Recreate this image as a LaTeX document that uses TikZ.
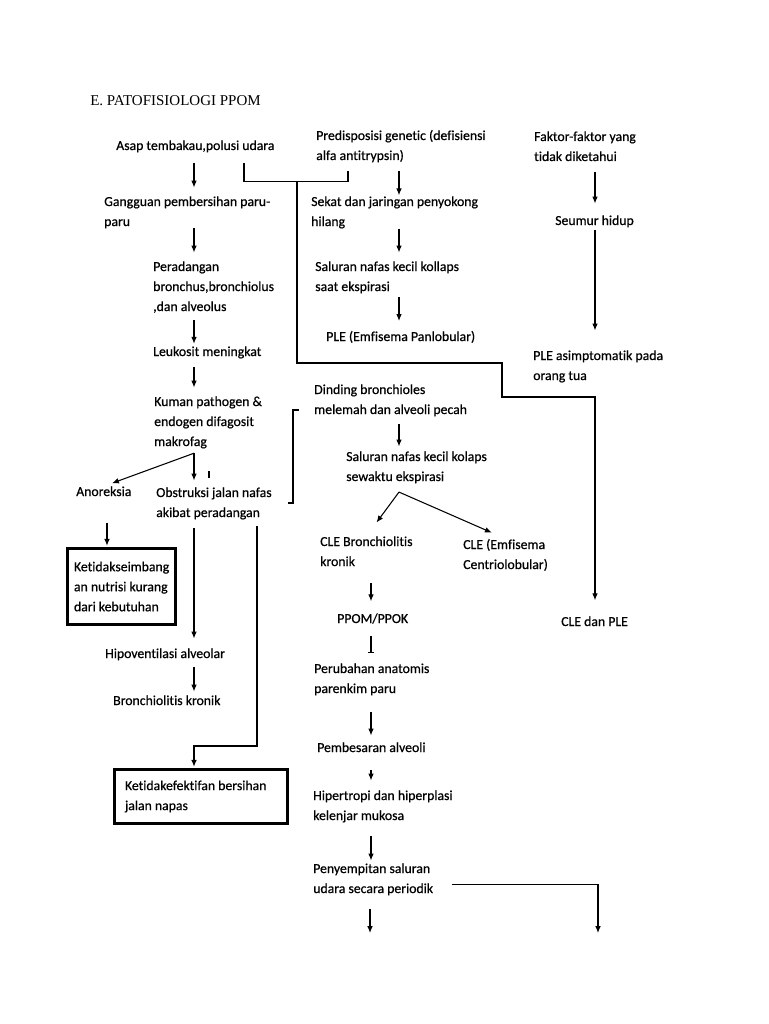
\documentclass[tikz,border=0pt]{standalone}
\usepackage{fontspec}
\setmainfont{Carlito}[Ligatures=NoCommon, FakeBold=0.6]
\newfontfamily\titlefont{Liberation Serif}
\usetikzlibrary{arrows.meta,calc}
\hyphenpenalty=10000
\exhyphenpenalty=10000
\tikzset{
  ln/.style={line width=0.85pt, draw=black},
  arr/.style={ln, -{Latex[length=5.5pt,width=4.5pt]}},
  barr/.style={ln, -{Bar[width=5pt]}},
  txt/.style={font=\fontsize{11}{16}\selectfont, align=left, inner sep=0pt, anchor=base west},
  ttl/.style={font=\titlefont\fontsize{12}{14}\selectfont, inner sep=0pt, anchor=base west},
  box/.style={font=\fontsize{11}{16}\selectfont, align=flush left, draw, line width=2.4pt, anchor=north west, inner ysep=0pt}
}
\begin{document}
\begin{tikzpicture}[x=0.8pt, y=-0.8pt]
  \fill[white] (0,0) rectangle (768,1024);
  \useasboundingbox (0,0) rectangle (768,1024);

  % lanes of the arrows
  \coordinate (xa) at (194,0);
  \coordinate (xb) at (257,0);
  \coordinate (xn) at (107,0);
  \coordinate (xc) at (399,0);
  \coordinate (xd) at (371,0);
  \coordinate (xj) at (244,0);
  \coordinate (xk) at (348,0);
  \coordinate (xm) at (297,0);
  \coordinate (xr) at (595,0);

  \node[ttl] (title) at (90,106) {E. PATOFISIOLOGI PPOM};

  % left column (y = baseline of the last line)
  \node[txt] (asap) at (116,150) {Asap tembakau,polusi udara};
  \node[txt] (gangguan) at (104,226) {Gangguan pembersihan paru-\\paru};
  \node[txt] (radang) at (153,311) {Peradangan\\bronchus,bronchiolus\\,dan alveolus};
  \node[txt] (leuko) at (153,356) {Leukosit meningkat};
  \node[txt] (kuman) at (154,446) {Kuman pathogen \&\\endogen difagosit\\makrofag};
  \node[txt] (anor) at (76,496) {Anoreksia};
  \node[txt] (obstr) at (156,517) {Obstruksi jalan nafas\\akibat peradangan};
  \node[box, text width=76pt, inner xsep=5.2pt, minimum height=60.8pt] (nutri) at (66,547) {Ketidakseimbang\\an nutrisi kurang\\dari kebutuhan};
  \node[txt] (hipo) at (105,658) {Hipoventilasi alveolar};
  \node[txt] (bronk) at (113,705) {Bronchiolitis kronik};
  \node[box, text width=121.6pt, inner xsep=8.4pt, minimum height=43.2pt] (efek) at (113,768) {Ketidakefektifan bersihan\\jalan napas};

  % middle column
  \node[txt] (predis) at (316,160) {Predisposisi genetic (defisiensi\\alfa antitrypsin)};
  \node[txt] (sekat) at (311,226) {Sekat dan jaringan penyokong\\hilang};
  \node[txt] (sal1) at (315,291) {Saluran nafas kecil kollaps\\saat ekspirasi};
  \node[txt] (ple1) at (326,341) {PLE (Emfisema Panlobular)};
  \node[txt] (dind) at (314,414) {Dinding bronchioles\\melemah dan alveoli pecah};
  \node[txt] (sal2) at (346,481) {Saluran nafas kecil kolaps\\sewaktu ekspirasi};
  \node[txt] (cleb) at (320,566) {CLE Bronchiolitis\\kronik};
  \node[txt] (clec) at (463,569) {CLE (Emfisema\\Centriolobular)};
  \node[txt] (ppom) at (337,623) {PPOM/PPOK};
  \node[txt] (perub) at (314,693) {Perubahan anatomis\\parenkim paru};
  \node[txt] (pemb) at (317,752) {Pembesaran alveoli};
  \node[txt] (hiper) at (313,820) {Hipertropi dan hiperplasi\\kelenjar mukosa};
  \node[txt] (peny) at (313,893) {Penyempitan saluran\\udara secara periodik};

  % right column
  \node[txt] (faktor) at (534,161) {Faktor-faktor yang\\tidak diketahui};
  \node[txt] (seumur) at (555,225) {Seumur hidup};
  \node[txt] (pleas) at (533,380) {PLE asimptomatik pada\\orang tua};
  \node[txt] (cledp) at (561,626) {CLE dan PLE};

  \coordinate (kb) at ($(kuman.south -| xa)+(0,4.6)$);
  \coordinate (sb) at ($(sal2.south -| xc)+(0,8.6)$);
  \coordinate (jn) at ($(predis.south -| xm)+(0,18.6)$);
  \coordinate (b1) at (502,363);
  \coordinate (b2) at (595,397);
  \coordinate (endL) at (370,933);
  \coordinate (endR) at (598,933);

  % left arrows
  \draw[arr, shorten <=8.5pt, shorten >=7pt] (asap.south -| xa) -- (gangguan.north -| xa);
  \draw[arr, shorten >=7pt] (gangguan.south -| xa) -- (radang.north -| xa);
  \draw[arr, shorten <=5.6pt, shorten >=2pt] (radang.south -| xa) -- (leuko.north -| xa);
  \draw[arr, shorten <=7pt, shorten >=7pt] (leuko.south -| xa) -- (kuman.north -| xa);
  \draw[arr, shorten >=7pt] (kb) -- (anor.north);
  \draw[arr, shorten >=5.4pt] (kb) -- (obstr.north -| xa);
  \draw[ln] (209,471) -- (209,478);
  \draw[arr, shorten <=21pt, shorten >=1pt] (anor.south -| xn) -- (nutri.north -| xn);
  \draw[arr, shorten <=7pt, shorten >=7.8pt] (obstr.south -| xa) -- (hipo.north -| xa);
  \draw[arr, shorten <=5.3pt, shorten >=3pt] (hipo.south -| xa) -- (bronk.north -| xa);
  \draw[arr, shorten <=5.3pt, shorten >=1pt] (obstr.south -| xb) |- (257,746) -| (efek.north -| xa);
  \draw[ln] (299,410) -| (293,503) -- (288,503);

  % middle arrows
  \draw[ln] ($(asap.south -| xj)+(0,10.6)$) |- (jn) -| ($(predis.south -| xk)+(0,8.6)$);
  \draw[arr, shorten <=7pt, shorten >=0.8pt] (predis.south -| xc) -- (sekat.north -| xc);
  \draw[arr, shorten >=7pt] (sekat.south -| xc) -- (sal1.north -| xc);
  \draw[arr, shorten <=3pt, shorten >=7.8pt] (sal1.south -| xc) -- (ple1.north -| xc);
  \draw[arr, shorten >=12.8pt] (jn) |- (b1) |- (b2) -- (cledp.north -| xr);
  \draw[arr, shorten <=6pt, shorten >=3.8pt] (dind.south -| xc) -- (sal2.north -| xc);
  \draw[arr, shorten >=13.6pt] (sb) -- (cleb.north);
  \draw[arr, shorten >=12pt] (sb) -- (clec.north);
  \draw[arr, shorten <=13.6pt, shorten >=9.6pt] (cleb.south -| xd) -- (ppom.north -| xd);
  \draw[barr, shorten <=10pt, shorten >=7.8pt] (ppom.south -| xd) -- (perub.north -| xd);
  \draw[arr, shorten <=13.3pt, shorten >=5.4pt] (perub.south -| xd) -- (pemb.north -| xd);
  \draw[arr, shorten <=14.4pt, shorten >=7.8pt] (pemb.south -| xd) -- (hiper.north -| xd);
  \draw[arr, shorten <=10.9pt, shorten >=2.2pt] (hiper.south -| xd) -- (peny.north -| xd);
  \draw[arr, shorten <=10.9pt] (peny.south -| endL) -- (endL);
  \draw[arr] ($(peny.east)+(19,5)$) -| (endR);

  % right arrows
  \draw[arr, shorten <=8.8pt, shorten >=9.4pt] (faktor.south -| xr) -- (seumur.north -| xr);
  \draw[arr, shorten <=2pt, shorten >=15.8pt] (seumur.south -| xr) -- (pleas.north -| xr);
\end{tikzpicture}
\end{document}
